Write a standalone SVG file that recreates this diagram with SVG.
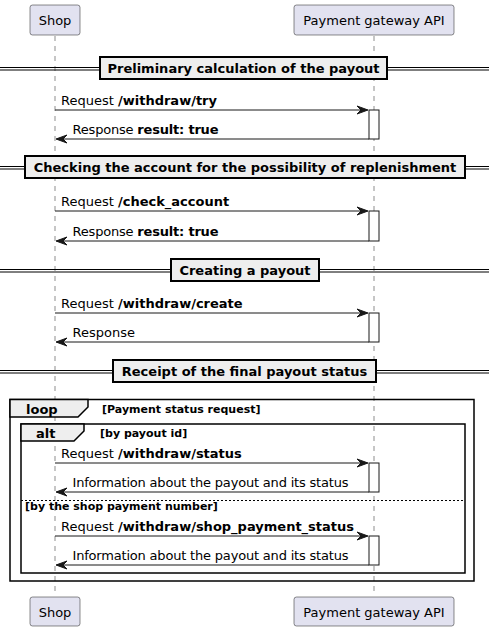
<svg xmlns="http://www.w3.org/2000/svg" width="495" height="631" viewBox="0 0 495 631">
<style>
text{font-family:"DejaVu Sans","Noto Sans",sans-serif;fill:#000}
.t13{font-size:13px}
.b{font-weight:bold}
.g11{font-size:11px;font-weight:bold}
.part{fill:#E2E2F0;stroke:#181818;stroke-width:0.5}
.life{stroke:#181818;stroke-width:0.5;stroke-dasharray:5,5;fill:none}
.msg{stroke:#181818;stroke-width:1;fill:none}
.head{fill:#181818;stroke:#181818;stroke-width:1}
.act{fill:#FFFFFF;stroke:#181818;stroke-width:1}
.dline{stroke:#000;stroke-width:1}
.dbox{fill:#EEEEEE;stroke:#000;stroke-width:2}
.frame{fill:none;stroke:#000;stroke-width:1.5}
.tab{fill:#EEEEEE;stroke:#000;stroke-width:1.5}
.sep{stroke:#000;stroke-width:1;stroke-dasharray:2,2}
</style>
<g id="lifelines">
<line class="life" x1="55" y1="36" x2="55" y2="596"/>
<line class="life" x1="374" y1="36" x2="374" y2="596"/>
</g>
<g id="shop-top"><rect class="part" x="30" y="5" width="50" height="30" rx="2.5"/><text class="t13" x="55" y="25" text-anchor="middle">Shop</text></g>
<g id="api-top"><rect class="part" x="294" y="5" width="160" height="30" rx="2.5"/><text class="t13" x="374" y="25" text-anchor="middle">Payment gateway API</text></g>
<g id="shop-bottom"><rect class="part" x="30" y="597" width="50" height="29" rx="2.5"/><text class="t13" x="55" y="617" text-anchor="middle">Shop</text></g>
<g id="api-bottom"><rect class="part" x="294" y="597" width="160" height="29" rx="2.5"/><text class="t13" x="374" y="617" text-anchor="middle">Payment gateway API</text></g>

<g id="divider1">
<line class="dline" x1="0" y1="67.5" x2="489" y2="67.5"/><line class="dline" x1="0" y1="70" x2="489" y2="70"/>
<rect class="dbox" x="100" y="57" width="287" height="22"/>
<text class="t13 b" x="243.5" y="72.5" text-anchor="middle">Preliminary calculation of the payout</text>
</g>
<g id="divider2">
<line class="dline" x1="0" y1="166.5" x2="489" y2="166.5"/><line class="dline" x1="0" y1="169" x2="489" y2="169"/>
<rect class="dbox" x="25" y="156" width="440" height="22"/>
<text class="t13 b" x="245" y="171.5" text-anchor="middle">Checking the account for the possibility of replenishment</text>
</g>
<g id="divider3">
<line class="dline" x1="0" y1="269.5" x2="489" y2="269.5"/><line class="dline" x1="0" y1="272" x2="489" y2="272"/>
<rect class="dbox" x="171" y="259" width="148" height="22"/>
<text class="t13 b" x="245" y="274.5" text-anchor="middle">Creating a payout</text>
</g>
<g id="divider4">
<line class="dline" x1="0" y1="370.5" x2="489" y2="370.5"/><line class="dline" x1="0" y1="373" x2="489" y2="373"/>
<rect class="dbox" x="113" y="360" width="263" height="22"/>
<text class="t13 b" x="244.5" y="375.5" text-anchor="middle">Receipt of the final payout status</text>
</g>

<g id="loop-frame">
<rect class="frame" x="10" y="399.5" width="464" height="181.5"/>
<polygon class="tab" points="10,399.5 88,399.5 88,407 78,417 10,417"/>
<text class="t13 b" x="26" y="413.5">loop</text>
<text class="g11" x="102" y="412.5">[Payment status request]</text>
</g>
<g id="alt-frame">
<rect class="frame" x="21" y="424" width="444" height="149"/>
<polygon class="tab" points="21,424 84,424 84,431 74,441 21,441"/>
<text class="t13 b" x="36" y="437.5">alt</text>
<text class="g11" x="100" y="436.5">[by payout id]</text>
<line class="sep" x1="21" y1="500.5" x2="465" y2="500.5"/>
<text class="g11" x="25" y="510">[by the shop payment number]</text>
</g>

<g id="activations">
<rect class="act" x="369" y="110" width="10" height="29"/>
<rect class="act" x="369" y="211" width="10" height="30"/>
<rect class="act" x="369" y="313" width="10" height="29"/>
<rect class="act" x="369" y="463" width="10" height="29"/>
<rect class="act" x="369" y="536" width="10" height="29"/>
</g>

<g id="connectors">
<line class="msg" x1="55" y1="110" x2="367" y2="110"/><polygon class="head" points="357,106 368,110 357,114 361,110"/>
<text class="t13" x="61" y="105">Request <tspan class="b">/withdraw/try</tspan></text>
<line class="msg" x1="369" y1="139" x2="57" y2="139"/><polygon class="head" points="67,135 56,139 67,143 63,139"/>
<text class="t13" x="72.5" y="134" textLength="146" lengthAdjust="spacing">Response <tspan class="b">result: true</tspan></text>

<line class="msg" x1="55" y1="211" x2="367" y2="211"/><polygon class="head" points="357,207 368,211 357,215 361,211"/>
<text class="t13" x="61" y="206">Request <tspan class="b">/check_account</tspan></text>
<line class="msg" x1="369" y1="241" x2="57" y2="241"/><polygon class="head" points="67,237 56,241 67,245 63,241"/>
<text class="t13" x="72.5" y="236" textLength="146" lengthAdjust="spacing">Response <tspan class="b">result: true</tspan></text>

<line class="msg" x1="55" y1="313" x2="367" y2="313"/><polygon class="head" points="357,309 368,313 357,317 361,313"/>
<text class="t13" x="61" y="308">Request <tspan class="b">/withdraw/create</tspan></text>
<line class="msg" x1="369" y1="342" x2="57" y2="342"/><polygon class="head" points="67,338 56,342 67,346 63,342"/>
<text class="t13" x="72.5" y="337">Response</text>

<line class="msg" x1="55" y1="463" x2="367" y2="463"/><polygon class="head" points="357,459 368,463 357,467 361,463"/>
<text class="t13" x="61" y="458">Request <tspan class="b">/withdraw/status</tspan></text>
<line class="msg" x1="369" y1="492" x2="57" y2="492"/><polygon class="head" points="67,488 56,492 67,496 63,492"/>
<text class="t13" x="72.5" y="487" textLength="276" lengthAdjust="spacing">Information about the payout and its status</text>

<line class="msg" x1="55" y1="536" x2="367" y2="536"/><polygon class="head" points="357,532 368,536 357,540 361,536"/>
<text class="t13" x="61" y="531">Request <tspan class="b">/withdraw/shop_payment_status</tspan></text>
<line class="msg" x1="369" y1="565" x2="57" y2="565"/><polygon class="head" points="67,561 56,565 67,569 63,565"/>
<text class="t13" x="72.5" y="560" textLength="276" lengthAdjust="spacing">Information about the payout and its status</text>
</g>
</svg>
